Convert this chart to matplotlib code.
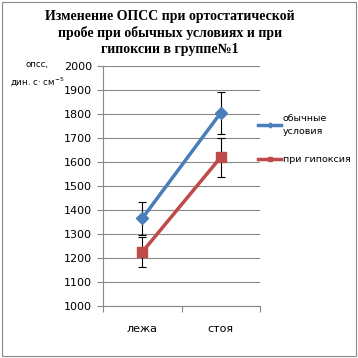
import numpy as np
import matplotlib
matplotlib.use('Agg')
import matplotlib.pyplot as plt
from matplotlib.patches import Rectangle
from matplotlib.lines import Line2D

categories = ['лежа', 'стоя']
normal = [1365, 1805]
normal_err = [70, 88]
hypoxia = [1225, 1620]
hypoxia_err = [62, 82]

blue = '#4a7ebb'
red = '#be4b48'

fig = plt.figure(figsize=(3.58, 3.58), dpi=100)
fig.patches.append(Rectangle((0.006, 0.006), 0.988, 0.988, transform=fig.transFigure,
                             fill=False, edgecolor='#888888', linewidth=0.8))
ax = fig.add_axes([103 / 358, 1 - 306 / 358, 157 / 358, 240 / 358])

x = np.arange(len(categories))
ax.errorbar(x, normal, yerr=normal_err, color=blue, linewidth=2.5, marker='D',
            markersize=6, ecolor='black', elinewidth=0.8, capsize=3, capthick=0.8)
ax.errorbar(x, hypoxia, yerr=hypoxia_err, color=red, linewidth=2.5, marker='s',
            markersize=7, ecolor='black', elinewidth=0.8, capsize=3, capthick=0.8)

ax.set_xlim(-0.5, 1.5)
ax.set_ylim(1000, 2000)
ax.set_yticks(np.arange(1000, 2001, 100))
ax.set_xticks([-0.5, 0.5, 1.5], minor=False)
ax.set_xticklabels([])
ax.set_xticks(x, minor=True)
ax.set_xticklabels(categories, minor=True)
ax.tick_params(axis='x', which='minor', length=0, pad=13, labelsize=8)
ax.tick_params(axis='x', which='major', length=4, color='#888888')
ax.tick_params(axis='y', length=4, color='#888888', labelsize=8, pad=4)
ax.grid(axis='y', color='#888888', linewidth=0.8)
ax.set_axisbelow(True)
for s in ['top', 'right']:
    ax.spines[s].set_visible(False)
for s in ['left', 'bottom']:
    ax.spines[s].set_color('#888888')

fig.text(0.475, 0.972, 'Изменение ОПСС при ортостатической\nпробе при обычных условиях и при\nгипоксии в группе№1',
         ha='center', va='top', fontsize=10, fontweight='bold', family='Liberation Serif',
         linespacing=1.3)
fig.text(37 / 358, 1 - 74 / 358, 'опсс,\nдин. с· см$^{-5}$', ha='center', va='center',
         fontsize=6.2, linespacing=1.7)

handles = [Line2D([], [], color=blue, linewidth=2.5, marker='D', markersize=2.5),
           Line2D([], [], color=red, linewidth=2.5, marker='s', markersize=2.5)]
leg = ax.legend(handles, ['обычные\nусловия', 'при гипоксия'], loc='upper left',
                bbox_to_anchor=(0.99, 0.80), frameon=False, fontsize=6.8,
                handlelength=2.4, handletextpad=0.15, labelspacing=2.0,
                borderaxespad=0, borderpad=0)
for t in leg.get_texts():
    t.set_linespacing(1.6)

plt.savefig('out.png', dpi=100)
